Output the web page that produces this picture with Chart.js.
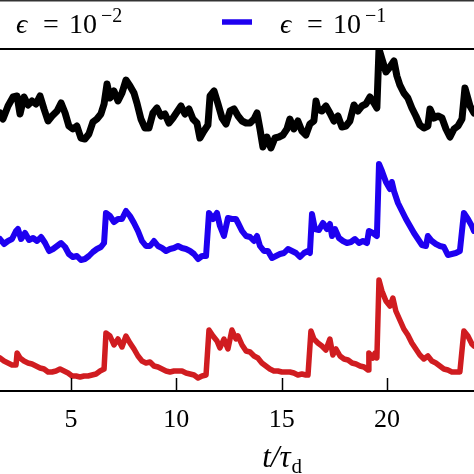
<!DOCTYPE html>
<html>
<head>
<meta charset="utf-8">
<script src="https://cdn.jsdelivr.net/npm/chart.js@4.4.1/dist/chart.umd.min.js"></script>
<style>
  body { margin: 0; background: #fff; }
  canvas { display: block; }
</style>
</head>
<body>
<canvas id="chart" width="474" height="474"></canvas>
<script>
// time axis, in units of tau_d (the crop shows roughly 1.6 .. 24.1)
var xMin = 1.63, xMax = 24.13;
var xTicks = [5, 10, 15, 20];
var yMin = 0, yMax = 3.41;

// eps = 1e-2 (black)
var tBlack = [1.63,1.77,2.01,2.25,2.44,2.58,2.77,2.96,3.15,3.34,3.53,3.72,3.91,4.10,4.34,4.53,4.72,4.90,5.09,5.28,5.47,5.66,5.85,6.04,6.23,6.42,6.57,6.71,6.85,7.04,7.23,7.42,7.61,7.80,7.99,8.13,8.32,8.51,8.70,8.89,9.08,9.27,9.46,9.65,9.84,10.03,10.22,10.41,10.60,10.79,10.98,11.12,11.31,11.50,11.60,11.79,11.98,12.17,12.36,12.55,12.74,12.93,13.12,13.31,13.50,13.69,13.83,13.97,14.11,14.30,14.49,14.68,14.87,15.06,15.25,15.39,15.58,15.77,15.96,16.15,16.34,16.53,16.63,16.72,16.91,17.10,17.29,17.48,17.67,17.86,18.05,18.24,18.43,18.62,18.81,19.00,19.19,19.38,19.52,19.62,19.76,19.95,20.14,20.33,20.47,20.61,20.80,20.99,21.18,21.37,21.56,21.75,21.94,22.04,22.23,22.42,22.61,22.80,22.99,23.18,23.37,23.56,23.70,23.94,24.13];
var vBlack = [2.78,2.72,2.85,2.94,2.95,2.77,2.94,2.86,2.90,2.87,2.95,2.82,2.70,2.75,2.80,2.88,2.78,2.65,2.62,2.65,2.53,2.52,2.57,2.69,2.72,2.77,2.87,3.07,2.93,3.00,2.90,2.98,3.11,3.05,2.98,2.88,2.72,2.63,2.63,2.78,2.83,2.75,2.77,2.68,2.73,2.79,2.85,2.77,2.82,2.72,2.68,2.53,2.60,2.66,2.95,3.00,2.87,2.73,2.67,2.80,2.82,2.75,2.70,2.68,2.68,2.72,2.78,2.62,2.44,2.54,2.43,2.53,2.54,2.56,2.62,2.72,2.62,2.70,2.60,2.56,2.67,2.70,2.90,2.82,2.80,2.85,2.78,2.70,2.75,2.64,2.65,2.70,2.86,2.80,2.85,2.87,2.94,2.88,2.83,3.42,3.32,3.19,3.24,3.30,3.15,3.06,2.98,2.93,2.83,2.75,2.66,2.63,2.65,2.82,2.73,2.75,2.73,2.62,2.54,2.62,2.65,2.72,3.03,2.85,2.78];

// eps = 1e-1 (blue)
var tBlue = [1.63,1.82,2.01,2.20,2.39,2.48,2.63,2.82,3.01,3.20,3.39,3.58,3.77,3.96,4.15,4.34,4.53,4.72,4.90,5.09,5.28,5.47,5.66,5.85,6.04,6.23,6.42,6.57,6.66,6.85,7.04,7.23,7.42,7.61,7.80,7.99,8.18,8.37,8.56,8.75,8.94,9.13,9.32,9.51,9.70,9.89,10.08,10.27,10.46,10.65,10.84,11.03,11.22,11.41,11.55,11.74,11.93,12.07,12.26,12.45,12.64,12.83,12.93,13.12,13.31,13.50,13.69,13.83,13.97,14.16,14.35,14.54,14.73,14.92,15.11,15.30,15.49,15.68,15.87,16.06,16.25,16.34,16.44,16.58,16.77,16.96,17.15,17.29,17.39,17.53,17.72,17.91,18.10,18.29,18.48,18.67,18.86,19.05,19.14,19.33,19.52,19.62,19.76,19.95,20.14,20.23,20.33,20.52,20.71,20.90,21.09,21.28,21.47,21.66,21.85,21.94,22.13,22.32,22.51,22.70,22.89,23.08,23.27,23.46,23.65,23.84,24.03,24.13];
var vBlue = [1.52,1.47,1.50,1.52,1.60,1.62,1.52,1.58,1.51,1.53,1.50,1.54,1.48,1.40,1.42,1.45,1.48,1.44,1.37,1.34,1.35,1.31,1.32,1.35,1.39,1.42,1.44,1.48,1.78,1.75,1.69,1.72,1.72,1.80,1.75,1.68,1.60,1.50,1.45,1.45,1.50,1.45,1.43,1.40,1.42,1.43,1.45,1.43,1.42,1.40,1.37,1.32,1.35,1.35,1.78,1.72,1.78,1.65,1.55,1.73,1.72,1.72,1.68,1.60,1.55,1.54,1.50,1.55,1.45,1.40,1.40,1.33,1.35,1.37,1.38,1.42,1.40,1.38,1.34,1.38,1.40,1.38,1.77,1.62,1.61,1.68,1.62,1.67,1.55,1.62,1.53,1.50,1.48,1.49,1.52,1.48,1.50,1.48,1.60,1.58,1.55,2.27,2.20,2.09,2.02,2.09,2.00,1.88,1.80,1.72,1.65,1.58,1.52,1.46,1.45,1.55,1.50,1.47,1.45,1.44,1.36,1.37,1.38,1.40,1.78,1.72,1.65,1.60];

// third series (red)
var tRed = [1.63,1.82,2.01,2.20,2.39,2.44,2.58,2.77,2.96,3.15,3.34,3.53,3.72,3.91,4.10,4.29,4.48,4.67,4.86,5.05,5.24,5.43,5.62,5.81,6.00,6.19,6.38,6.57,6.66,6.85,7.04,7.23,7.42,7.61,7.80,7.99,8.18,8.37,8.56,8.75,8.94,9.13,9.32,9.51,9.70,9.89,10.08,10.27,10.46,10.65,10.84,11.03,11.22,11.41,11.55,11.74,11.93,12.07,12.26,12.45,12.64,12.83,12.93,13.12,13.31,13.50,13.69,13.87,14.06,14.25,14.44,14.63,14.82,15.01,15.20,15.39,15.58,15.77,15.96,16.15,16.25,16.39,16.53,16.72,16.91,17.10,17.29,17.43,17.58,17.77,17.96,18.15,18.34,18.53,18.72,18.91,19.10,19.14,19.33,19.43,19.52,19.62,19.76,19.95,20.14,20.28,20.42,20.61,20.80,20.99,21.18,21.37,21.56,21.75,21.94,22.13,22.32,22.51,22.70,22.89,23.08,23.27,23.46,23.65,23.84,24.03,24.13];
var vRed = [0.33,0.30,0.28,0.26,0.26,0.38,0.33,0.30,0.28,0.27,0.25,0.23,0.22,0.19,0.19,0.20,0.22,0.20,0.18,0.15,0.15,0.14,0.15,0.15,0.16,0.17,0.20,0.22,0.58,0.55,0.46,0.52,0.44,0.55,0.48,0.42,0.35,0.30,0.28,0.29,0.25,0.24,0.22,0.20,0.19,0.20,0.20,0.20,0.18,0.17,0.16,0.13,0.15,0.16,0.61,0.55,0.50,0.43,0.52,0.42,0.61,0.52,0.55,0.46,0.40,0.39,0.35,0.33,0.28,0.25,0.22,0.20,0.20,0.19,0.19,0.19,0.18,0.16,0.17,0.16,0.16,0.60,0.52,0.48,0.45,0.41,0.52,0.36,0.42,0.35,0.32,0.31,0.28,0.27,0.25,0.24,0.21,0.38,0.33,0.38,0.33,1.11,1.00,0.90,0.85,0.93,0.80,0.71,0.62,0.56,0.48,0.42,0.36,0.32,0.35,0.30,0.28,0.25,0.22,0.21,0.19,0.19,0.19,0.60,0.55,0.47,0.45];

// legend: "eps = 10^exp"
var legendExp = ['\u22122', '\u22121'];
var legendColors = ['#000000', '#1e00f0'];
var legendTextX = [16, 280];

function pts(ts, vs) {
  var out = [];
  for (var i = 0; i < ts.length; i++) out.push({x: ts[i], y: vs[i]});
  return out;
}

var serif = '"Liberation Serif", "DejaVu Serif", serif';

var extras = {
  id: 'extras',
  afterDraw: function(chart) {
    var ctx = chart.ctx, area = chart.chartArea, xs = chart.scales.x;
    ctx.save();
    // inward tick marks
    ctx.strokeStyle = '#000';
    ctx.lineWidth = 1.5;
    xTicks.forEach(function(v) {
      var px = Math.round(xs.getPixelForValue(v)) + 0.5;
      ctx.beginPath();
      ctx.moveTo(px, area.bottom);
      ctx.lineTo(px, area.bottom - 13);
      ctx.stroke();
    });
    // top spine / legend frame bottom
    ctx.lineWidth = 2;
    ctx.beginPath();
    ctx.moveTo(0, area.top - 1);
    ctx.lineTo(474, area.top - 1);
    ctx.stroke();

    // axis title t/tau_d, centred on the middle of the full time range
    var cx = xs.getPixelForValue(15);
    ctx.fillStyle = '#000';
    ctx.textBaseline = 'alphabetic';
    ctx.font = 'italic 31px ' + serif;
    var w1 = ctx.measureText('t/\u03c4').width;
    ctx.font = '21px ' + serif;
    var w2 = ctx.measureText('d').width;
    var x0 = cx - (w1 + w2) / 2;
    ctx.font = 'italic 31px ' + serif;
    ctx.fillText('t/\u03c4', x0, 467);
    ctx.font = '21px ' + serif;
    ctx.fillText('d', x0 + w1 + 1, 473);

    // legend box
    ctx.strokeStyle = '#333';
    ctx.lineWidth = 1.5;
    ctx.beginPath();
    ctx.moveTo(0, 0.75);
    ctx.lineTo(474, 0.75);
    ctx.stroke();
    for (var i = 0; i < legendExp.length; i++) {
      var tx = legendTextX[i];
      ctx.strokeStyle = legendColors[i];
      ctx.lineWidth = 5.5;
      ctx.lineCap = 'butt';
      ctx.beginPath();
      ctx.moveTo(tx - 58, 22);
      ctx.lineTo(tx - 28, 22);
      ctx.stroke();
      ctx.fillStyle = '#000';
      ctx.font = 'italic 28px ' + serif;
      ctx.fillText('\u03f5', tx, 33);
      ctx.font = '28px ' + serif;
      ctx.fillText('=', tx + 27, 33);
      ctx.fillText('10', tx + 53, 33);
      ctx.font = '20px ' + serif;
      ctx.fillText(legendExp[i], tx + 85, 22);
    }
    ctx.restore();
  }
};

new Chart('chart', {
  type: 'line',
  data: {
    datasets: [
      {label: 'eps = 1e-2', data: pts(tBlack, vBlack), borderColor: '#000000', borderWidth: 7},
      {label: 'eps = 1e-1', data: pts(tBlue, vBlue), borderColor: '#1e00f0', borderWidth: 6},
      {label: 'third', data: pts(tRed, vRed), borderColor: '#d01c20', borderWidth: 5.5}
    ]
  },
  options: {
    responsive: false,
    animation: false,
    layout: {padding: {top: 50, left: 0, right: 0, bottom: 0}},
    elements: {
      point: {radius: 0},
      line: {tension: 0, borderJoinStyle: 'round', borderCapStyle: 'round'}
    },
    datasets: {line: {clip: 0}},
    plugins: {legend: {display: false}, tooltip: {enabled: false}},
    scales: {
      x: {
        type: 'linear',
        min: xMin,
        max: xMax,
        afterBuildTicks: function(s) { s.ticks = xTicks.map(function(v) { return {value: v}; }); },
        afterFit: function(s) { s.height = 83; },
        grid: {drawOnChartArea: false, drawTicks: false},
        border: {display: true, color: '#000', width: 2},
        ticks: {
          color: '#000',
          padding: 14,
          maxRotation: 0,
          autoSkip: false,
          font: {family: serif, size: 26}
        }
      },
      y: {display: false, min: yMin, max: yMax}
    }
  },
  plugins: [extras]
});
</script>
</body>
</html>
